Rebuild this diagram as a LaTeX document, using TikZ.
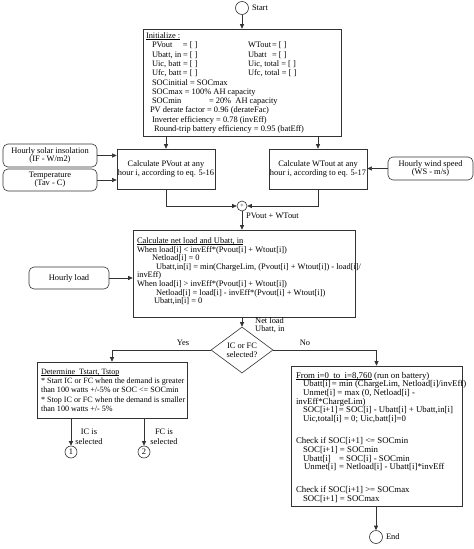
\documentclass[tikz,border=0pt]{standalone}
\usepackage{fontspec}
\setmainfont{Liberation Serif}
\usepackage{tikz}
\usetikzlibrary{arrows.meta, positioning, shapes.geometric}
\definecolor{edgegray}{gray}{0.2}
% text block of a fixed-size box: width, height, top gap, left gap, lines
\newcommand{\boxtext}[5]{%
  \parbox[c][#2][t]{#1}{\vspace*{#3}%
  \begin{tabular}{@{\hspace{#4}}l@{}}#5\end{tabular}}}
% plain underline of a heading
\newcommand{\headline}[1]{\setbox0\hbox{#1}\rlap{\rule[-1.3pt]{\wd0}{0.4pt}}\box0\relax}
\tikzset{
  box/.style  ={draw=edgegray, line width=0.6pt, inner sep=0pt},
  cbox/.style ={draw=edgegray, line width=0.6pt, align=center, inner sep=1pt, font=\fontsize{8.4}{9.5}\selectfont},
  inbox/.style={cbox, rounded corners=5pt, font=\fontsize{8.4}{8}\selectfont},
  conn/.style ={circle, draw=edgegray, line width=0.6pt, minimum size=12pt, inner sep=0pt},
  dec/.style  ={diamond, draw=edgegray, line width=0.6pt, align=center, inner sep=0pt},
  fl/.style   ={draw=edgegray, line width=0.6pt, -{Triangle[length=4.5pt,width=4pt]}},
  lbl/.style  ={inner sep=0pt, align=left},
}
\begin{document}
\begin{tikzpicture}[x=1pt, y=-1pt, font=\fontsize{8.4}{8.6}\selectfont]
  \useasboundingbox (0,0) rectangle (474,549);
  % start and initialisation
  \node[conn, minimum size=13pt] (start) at (242,8) {};
  \node[lbl, right=3pt of start] (starttxt) {Start};
  \node[box, font=\fontsize{8.4}{9.3}\selectfont] (init) at (242,82.5) {\boxtext{198pt}{107pt}{3pt}{3pt}{%
    \headline{Initialize :}\\
    \hspace*{6pt}\makebox[96pt][l]{\makebox[31pt][l]{PVout}= [ ]}\makebox[24pt][l]{WTout}= [ ]\\
    \hspace*{6pt}\makebox[96pt][l]{\makebox[31pt][l]{Ubatt, in}= [ ]}\makebox[24pt][l]{Ubatt}= [ ]\\
    \hspace*{6pt}\makebox[96pt][l]{\makebox[31pt][l]{Uic, batt}= [ ]}Uic, total = [ ]\\
    \hspace*{6pt}\makebox[96pt][l]{\makebox[31pt][l]{Ufc, batt}= [ ]}Ufc, total = [ ]\\
    \hspace*{6pt}SOCinitial = SOCmax\\
    \hspace*{6pt}SOCmax = 100\% AH capacity\\
    \hspace*{6pt}\makebox[57pt][l]{SOCmin}= 20\%~ AH capacity\\
    \hspace*{4pt}PV derate factor = 0.96 (derateFac)\\
    \hspace*{6pt}Inverter efficiency = 0.78 (invEff)\\
    \hspace*{8pt}Round-trip battery efficiency = 0.95 (batEff)}};
  % PV and wind output
  \node[cbox, minimum width=96pt, minimum height=40pt] (pv) at (166,169) {Calculate PVout at any\\hour i, according to eq. 5-16};
  \node[cbox, minimum width=98pt, minimum height=40pt] (wt) at (318,169) {Calculate WTout at any\\hour i, according to eq. 5-17};
  \node[inbox, minimum width=94pt, minimum height=23pt] (solar) at (50,155.5) {Hourly solar insolation\\(IF - W/m2)};
  \node[inbox, minimum width=94pt, minimum height=22pt] (temp) at (50,180) {Temperature\\(Tav - C)};
  \node[inbox, minimum width=85pt, minimum height=23pt] (wind) at (430.5,168.5) {Hourly wind speed\\(WS - m/s)};
  \node[conn, minimum size=10pt, font=\fontsize{6}{6}\selectfont] (sum) at (242,206) {+};
  \node[lbl, anchor=west] (pvwt) at (246,216) {PVout + WTout};
  % net load
  \node[box] (net) at (244,273.5) {\boxtext{222pt}{87pt}{7.5pt}{4pt}{%
    \headline{Calculate net load and Ubatt, in}\\
    When load[i] < invEff*(Pvout[i] + Wtout[i])\\
    \hspace*{15pt}Netload[i] = 0\\
    \hspace*{19pt}Ubatt,in[i] = min(ChargeLim, (Pvout[i] + Wtout[i]) - load[i]/\\
    invEff)\\
    When load[i] > invEff*(Pvout[i] + Wtout[i])\\
    \hspace*{19pt}Netload[i] = load[i] - invEff*(Pvout[i] + Wtout[i])\\
    \hspace*{17pt}Ubatt,in[i] = 0}};
  \node[inbox, minimum width=80pt, minimum height=22pt] (load) at (69,278) {Hourly load};
  \node[lbl, anchor=north west, font=\fontsize{8.4}{8.5}\selectfont] (nlu) at (255,317) {Net load\\Ubatt, in};
  % decision
  \node[dec, minimum width=62pt, minimum height=46pt] (dec) at (242,350) {IC or FC\\selected?};
  \node[lbl] (yes) at (183,343) {Yes};
  \node[lbl] (no) at (305,343) {No};
  \node[box, font=\fontsize{8.1}{9.2}\selectfont] (det) at (112,390) {\boxtext{150pt}{56pt}{6pt}{4pt}{%
    \headline{Determine~ Tstart, Tstop}\\
    {*} Start IC or FC when the demand is greater\\
    than 100 watts +/-5\% or SOC <= SOCmin\\
    {*} Stop IC or FC when the demand is smaller\\
    than 100 watts +/- 5\%}};
  \node[conn] (c1) at (71,452) {1};
  \node[conn] (c2) at (144,452) {2};
  \node[lbl, align=center, font=\fontsize{8.4}{9.5}\selectfont] (ictxt) at (89,437) {IC is\\selected};
  \node[lbl, align=center, font=\fontsize{8.4}{9.5}\selectfont] (fctxt) at (164,437) {FC is\\selected};
  % battery run
  \node[box, font=\fontsize{8.8}{8.3}\selectfont] (from) at (376.5,436) {\boxtext{171pt}{140pt}{6pt}{5pt}{%
    \headline{From i=0~ to~ i=8,760} (run on battery)\\
    \hspace*{7pt}\makebox[29pt][l]{Ubatt[i]}= min (ChargeLim, Netload[i]/invEff)\\
    \hspace*{7pt}Unmet[i] = max (0, Netload[i] -\\
    invEff*ChargeLim)\\
    \hspace*{7pt}\makebox[36pt][l]{SOC[i+1]}= SOC[i] - Ubatt[i] + Ubatt,in[i]\\
    \hspace*{7pt}Uic,total[i] = 0; Uic,batt[i]=0\\[14pt]
    Check if SOC[i+1] <= SOCmin\\
    \hspace*{7pt}SOC[i+1] = SOCmin\\
    \hspace*{7pt}\makebox[36pt][l]{Ubatt[i]}= SOC[i] - SOCmin\\
    \hspace*{8pt}\makebox[35pt][l]{Unmet[i]}= Netload[i] - Ubatt[i]*invEff\\[14pt]
    Check if SOC[i+1] >= SOCmax\\
    \hspace*{7pt}SOC[i+1] = SOCmax}};
  \node[conn, minimum size=13pt] (endc) at (376,537) {};
  \node[lbl, right=3pt of endc] (endtxt) {End};
  % connectors
  \draw[fl] (start.south) -- (init.north);
  \draw[fl] (init.south -| pv) -- (pv.north);
  \draw[fl] (init.south -| wt) -- (wt.north);
  \draw[fl] (solar.east) -- (solar.east -| pv.west);
  \draw[fl] (temp.east) -- (temp.east -| pv.west);
  \draw[fl] (wind.west) -- (wind.west -| wt.east);
  \draw[fl] (pv.south) |- (sum.west);
  \draw[fl] (wt.south) |- (sum.east);
  \draw[fl] (sum.south) -- (sum |- net.north);
  \draw[fl] (load.east) -- (load.east -| net.west);
  \draw[fl] (net.south -| dec) -- (dec.north);
  \draw[fl] (dec.west) -| (det.north);
  \draw[fl] (dec.east) -| (from.north);
  \draw[fl] (det.south -| c1) -- (c1.north);
  \draw[fl] (det.south -| c2) -- (c2.north);
  \draw[fl] (from.south -| endc) -- (endc.north);
\end{tikzpicture}
\end{document}
